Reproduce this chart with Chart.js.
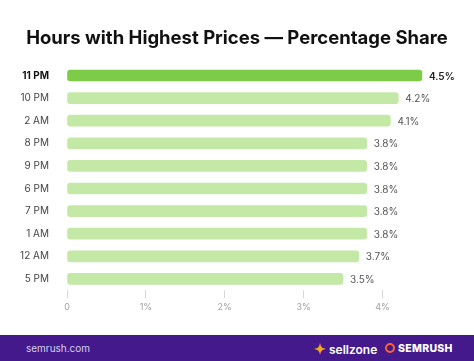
<!DOCTYPE html>
<html>
<head>
<meta charset="utf-8">
<script src="https://cdn.jsdelivr.net/npm/chart.js@4"></script>
<style>
  html, body { margin: 0; padding: 0; background: #fff; }
  #wrap { width: 474px; height: 335px; position: relative; }
  #footer {
    width: 474px; height: 26px; background: #43198c;
    position: relative; font-family: Inter, "Noto Sans", sans-serif; color: #fff;
  }
  #site { position: absolute; left: 26px; top: 7px; font-size: 10px; color: #d8cff0; }
  #sellzone { position: absolute; left: 314px; top: 5px; font-size: 12px; font-weight: 600; }
  #sellzone .star { color: #f5a623; font-size: 14px; margin-right: 3px; }
  #semrush { position: absolute; left: 385px; top: 7px; font-size: 10.5px; font-weight: 800; letter-spacing: 0.3px; }
  #semrush .ico { display: inline-block; width: 10px; height: 10px; border-radius: 50%;
    border: 2px solid #ff642d; box-sizing: border-box; vertical-align: -1px; margin-right: 3px; }
</style>
</head>
<body>
<div id="wrap"><canvas id="chart" width="474" height="335"></canvas></div>
<div id="footer">
  <span id="site">semrush.com</span>
  <span id="sellzone"><span class="star">✦</span>sellzone</span>
  <span id="semrush"><span class="ico"></span>SEMRUSH</span>
</div>
<script>
// Hours with highest prices
const hours = ['11 PM', '10 PM', '2 AM', '8 PM', '9 PM', '6 PM', '7 PM', '1 AM', '12 AM', '5 PM'];
const shares = [4.5, 4.2, 4.1, 3.8, 3.8, 3.8, 3.8, 3.8, 3.7, 3.5];
const tickValues = [0, 1, 2, 3, 4];

const barColors = shares.map((v, i) => i === 0 ? '#7dcc48' : '#c4e9a6');

// value labels at the end of each bar
const valueLabels = {
  id: 'valueLabels',
  afterDatasetsDraw(chart) {
    const ctx = chart.ctx;
    const meta = chart.getDatasetMeta(0);
    ctx.save();
    ctx.textBaseline = 'middle';
    meta.data.forEach((bar, i) => {
      ctx.font = (i === 0 ? '600 ' : '400 ') + '10px Inter, "Noto Sans", sans-serif';
      ctx.fillStyle = i === 0 ? '#222' : '#555';
      ctx.fillText(shares[i] + '%', bar.x + 7, bar.y + 1);
    });
    ctx.restore();
  }
};

const ctx = document.getElementById('chart').getContext('2d');
const chart = new Chart(ctx, {
  type: 'bar',
  data: {
    labels: hours,
    datasets: [{
      data: shares,
      backgroundColor: barColors,
      borderRadius: 3,
      borderSkipped: false,
      barThickness: 11
    }]
  },
  options: {
    indexAxis: 'y',
    responsive: false,
    animation: false,
    layout: { padding: { left: 0, right: 0, bottom: 18 } },
    plugins: {
      legend: { display: false },
      tooltip: { enabled: false },
      title: {
        display: true,
        text: 'Hours with Highest Prices — Percentage Share',
        color: '#111',
        font: { family: 'Inter, "Noto Sans", sans-serif', size: 18.5, weight: '700' },
        padding: { top: 27, bottom: 15 }
      }
    },
    scales: {
      x: {
        min: 0,
        max: 5.16,
        z: 1,
        afterBuildTicks: (axis) => { axis.ticks = tickValues.map(v => ({ value: v })); },
        border: { display: false },
        grid: { color: 'rgba(255,255,255,0.9)', tickColor: '#d8d8d8', tickLength: 8, lineWidth: 1 },
        ticks: {
          padding: 4,
          color: '#a0a0a0',
          font: { family: 'Inter, "Noto Sans", sans-serif', size: 9 },
          callback: (v) => v === 0 ? '0' : v + '%'
        }
      },
      y: {
        afterFit: (axis) => { axis.width = 67; },
        border: { display: false },
        grid: { display: false },
        ticks: {
          padding: 10,
          color: (c) => c.index === 0 ? '#111' : '#444',
          font: (c) => ({ family: 'Inter, "Noto Sans", sans-serif', size: 10, weight: c.index === 0 ? '700' : '400' })
        }
      }
    }
  },
  plugins: [valueLabels]
});
</script>
</body>
</html>
